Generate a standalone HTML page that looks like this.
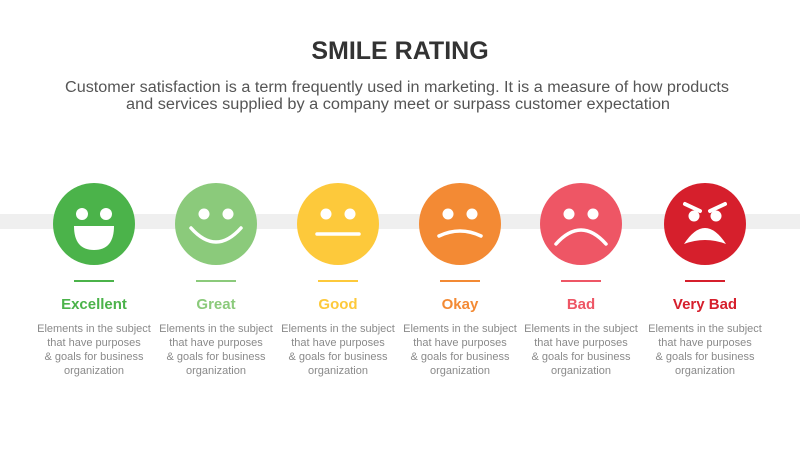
<!DOCTYPE html>
<html><head><meta charset="utf-8"><style>
html,body{margin:0;padding:0;background:#fff;width:800px;height:450px;overflow:hidden}
svg{display:block;font-family:"Liberation Sans",sans-serif}
</style></head><body>
<svg id="s" width="800" height="450" viewBox="0 0 800 450">
<rect x="0" y="214" width="800" height="15" fill="#efefef"/>
<text x="400" y="59" text-anchor="middle" font-size="25" font-weight="bold" fill="#333">SMILE RATING</text>
<text x="397" y="92" text-anchor="middle" font-size="15.5" fill="#555" textLength="664" lengthAdjust="spacingAndGlyphs">Customer satisfaction is a term frequently used in marketing. It is a measure of how products</text>
<text x="398" y="109" text-anchor="middle" font-size="15.5" fill="#555" textLength="544" lengthAdjust="spacingAndGlyphs">and services supplied by a company meet or surpass customer expectation</text>
<g id="items"></g>
</svg>
<script>
const labels=["Excellent","Great","Good","Okay","Bad","Very Bad"];
const colors=["#4bb34a","#8bca7b","#fdc93b","#f38a34","#ee5665","#d61f2c"];
const centers=[94,216,338,460,581,705];
const NS="http://www.w3.org/2000/svg";
const g=document.getElementById('items');
function mk(t,a,p){const e=document.createElementNS(NS,t);for(const k in a)e.setAttribute(k,a[k]);(p||g).appendChild(e);return e;}
const faces=[
 '<circle cx="-12" cy="-10" r="6" fill="#fff"/><circle cx="12" cy="-10" r="6" fill="#fff"/><path d="M-20 2 Q0 2 20 2 Q20 26 0 26 Q-20 26 -20 2Z" fill="#fff"/>',
 '<circle cx="-12" cy="-10" r="5.5" fill="#fff"/><circle cx="12" cy="-10" r="5.5" fill="#fff"/><path d="M-25 4 Q0 32 25 4" fill="none" stroke="#fff" stroke-width="3.5" stroke-linecap="round"/>',
 '<circle cx="-12" cy="-10" r="5.5" fill="#fff"/><circle cx="12" cy="-10" r="5.5" fill="#fff"/><line x1="-21" y1="10" x2="21" y2="10" stroke="#fff" stroke-width="3.5" stroke-linecap="round"/>',
 '<circle cx="-12" cy="-10" r="5.5" fill="#fff"/><circle cx="12" cy="-10" r="5.5" fill="#fff"/><path d="M-21 12 Q0 2 21 12" fill="none" stroke="#fff" stroke-width="3.5" stroke-linecap="round"/>',
 '<circle cx="-12" cy="-10" r="5.5" fill="#fff"/><circle cx="12" cy="-10" r="5.5" fill="#fff"/><path d="M-25 20 Q0 -8 25 20" fill="none" stroke="#fff" stroke-width="3.5" stroke-linecap="round"/>',
 '<path d="M-20 -20 L-5 -13" stroke="#fff" stroke-width="4" stroke-linecap="round"/><path d="M20 -20 L5 -13" stroke="#fff" stroke-width="4" stroke-linecap="round"/><circle cx="-11" cy="-8" r="5.5" fill="#fff"/><circle cx="11" cy="-8" r="5.5" fill="#fff"/><path d="M-21 20 Q0 -12 21 20 Q0 12 -21 20Z" fill="#fff"/>'
];
const desc=["Elements in the subject","that have purposes","& goals for business","organization"];
labels.forEach((l,i)=>{
 const cx=centers[i];
 const grp=mk('g',{transform:`translate(${cx},224)`});
 
 
 mk('circle',{cx:0,cy:0,r:41,fill:colors[i]},grp);
 grp.insertAdjacentHTML('beforeend',faces[i]);
 const ln=mk('rect',{x:cx-20,y:280,width:40,height:2,fill:colors[i]});
 
 
 const t=mk('text',{x:cx,y:309,'text-anchor':'middle','font-size':15,'font-weight':'bold',fill:colors[i]});
 t.textContent=l;
 
 
 desc.forEach((d,j)=>{
  const dt=mk('text',{x:cx,y:332+j*14,'text-anchor':'middle','font-size':11,fill:'#8a8a8a'});
  dt.textContent=d;
  
  
 });
});
</script>
</body></html>
